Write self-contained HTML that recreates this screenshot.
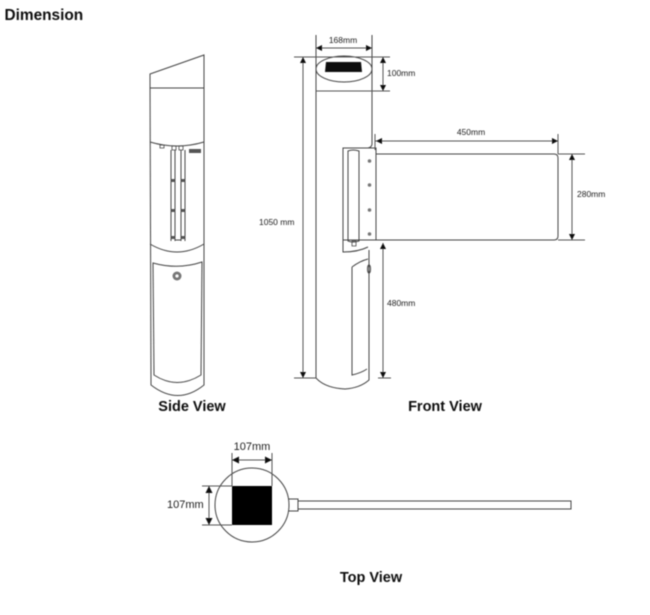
<!DOCTYPE html>
<html>
<head>
<meta charset="utf-8">
<style>
html,body{margin:0;padding:0;background:#fff;}
svg{display:block;}
text{font-family:"Liberation Sans",sans-serif;}
</style>
</head>
<body>
<svg width="650" height="615" viewBox="0 0 650 615" xmlns="http://www.w3.org/2000/svg">
<defs><filter id="b" x="-5%" y="-5%" width="110%" height="110%"><feGaussianBlur stdDeviation="0.4"/></filter></defs>
<g filter="url(#b)">
<g fill="none" stroke="#444" stroke-width="1">
  <!-- Side view -->
  <path d="M150 74L204 55L204 385Q178 406 151 385L150 74Z"/>
  <path d="M150 88H204"/>
  <path d="M150 142Q177 150 204 142"/>
  <path d="M150 244Q177 260 204 244"/>
  <path d="M153 263Q178 270 202 262L201 375Q177 390 154 375Z"/>
  <path d="M171 150V241M175 150V241M181 150V241M185 150V241M175 240H181"/>
  <path d="M172 146h4v4h-4zM179 146h4v4h-4zM160 145h4v3h-4z" stroke-width="0.8"/>
  <!-- Front view -->
  <path d="M316 35V378Q325 388 345 389Q360 388 369 380V250"/>
  <path d="M372 35V144Q372 147 368 148"/>
  <ellipse cx="344" cy="69" rx="28" ry="13"/>
  <path d="M343 148H376V240H343Z"/>
  <path d="M348 151Q353 149 359 151V241Q353 243 348 241Z"/>
  <path d="M343 240V252Q358 252 368 247"/>
  <path d="M352 267Q360 261 368 259"/>
  <path d="M352 267L352 375Q361 373 367 369"/>
  <ellipse cx="369" cy="269" rx="1.5" ry="4"/>
  <path d="M352 241h4v5h-4z" stroke-width="0.8"/>
  <!-- Gate panel -->
  <path d="M376 154H554Q558 154 558 158V236Q558 240 554 240H376"/>
  <!-- Top view -->
  <circle cx="252" cy="505" r="37"/>
  <path d="M288 499H298V511H288"/>
  <path d="M298 501H571V509H298"/>
</g>
<g fill="#777" stroke="none">
  <circle cx="369.5" cy="161" r="1.8"/><circle cx="369.5" cy="185" r="1.8"/><circle cx="369.5" cy="210" r="1.8"/><circle cx="369.5" cy="234" r="1.8"/>
  <circle cx="177" cy="276" r="4.5"/>
</g>
<g fill="#555" stroke="none">
  <rect x="171" y="179" width="4" height="3"/><rect x="181" y="179" width="4" height="3"/>
  <rect x="171" y="209" width="4" height="3"/><rect x="181" y="209" width="4" height="3"/>
  <rect x="171" y="236" width="4" height="3"/><rect x="181" y="236" width="4" height="3"/>
</g>
<circle cx="177" cy="276" r="1.5" fill="#fff"/>
<rect x="189" y="149" width="12" height="4" fill="#555"/>
<!-- Black fills -->
<path d="M326 62H361L362 72H325Z" fill="#0a0a0a"/>
<rect x="232" y="486" width="40" height="39" fill="#000"/>
<!-- Dimension lines -->
<g fill="none" stroke="#555" stroke-width="1">
  <path d="M294 57H390M316 91H390M303 57V378M294 378H316"/>
  <path d="M316 48H372"/>
  <path d="M383 57V91"/>
  <path d="M375 134V150M558 134V154M375 141H558"/>
  <path d="M558 154H585M558 240H585M572 154V240"/>
  <path d="M383 243V378M378 378H391"/>
  <path d="M232 453V486M272 453V486M232 460H272"/>
  <path d="M202 486H232M202 525H232M209 486V525"/>
</g>
<g fill="#111" stroke="none">
  <path d="M303 57l-3 6h6z"/><path d="M303 378l-3 -6h6z"/>
  <path d="M316 48l6 -3v6z"/><path d="M372 48l-6 -3v6z"/>
  <path d="M383 57l-3 6h6z"/><path d="M383 91l-3 -6h6z"/>
  <path d="M376 141l6 -3v6z"/><path d="M558 141l-6 -3v6z"/>
  <path d="M572 154l-3 6h6z"/><path d="M572 240l-3 -6h6z"/>
  <path d="M383 243l-3 6h6z"/><path d="M383 378l-3 -6h6z"/>
  <path d="M232 460l7 -3.5v7z"/><path d="M272 460l-7 -3.5v7z"/>
  <path d="M209 486l-3.5 7h7z"/><path d="M209 525l-3.5 -7h7z"/>
</g>
<!-- Labels -->
<g fill="#222">
  <text x="4.5" y="20" font-size="15.4" font-weight="bold" fill="#111">Dimension</text>
  <text x="192" y="411" font-size="14.5" font-weight="bold" text-anchor="middle" fill="#111">Side View</text>
  <text x="445" y="411" font-size="14.5" font-weight="bold" text-anchor="middle" fill="#111">Front View</text>
  <text x="371" y="582" font-size="14.5" font-weight="bold" text-anchor="middle" fill="#111">Top View</text>
  <text x="343" y="43" font-size="8.5" text-anchor="middle">168mm</text>
  <text x="387" y="76" font-size="8.5">100mm</text>
  <text x="471" y="135" font-size="8.5" text-anchor="middle">450mm</text>
  <text x="577" y="197" font-size="8.5">280mm</text>
  <text x="387" y="306" font-size="8.5">480mm</text>
  <text x="259" y="225" font-size="8.5">1050 mm</text>
  <text x="252" y="450" font-size="11" text-anchor="middle">107mm</text>
  <text x="167" y="508" font-size="11">107mm</text>
</g>
</g>
</svg>
</body>
</html>
